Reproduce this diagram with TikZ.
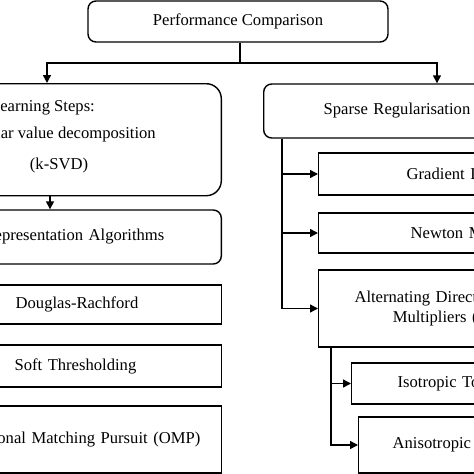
\documentclass[tikz,border=0pt]{standalone}
\usepackage{fontspec}
\setmainfont{Liberation Serif}
\usetikzlibrary{arrows.meta}
\begin{document}
\begin{tikzpicture}[x=1pt,y=-1pt,
  every node/.style={font=\fontsize{16.6}{20}\selectfont},
  box/.style={draw, line width=1.4pt, inner ysep=0pt, text width=300pt},
  lbox/.style={box, anchor=east, align=right},
  rbox/.style={box, anchor=west, align=left},
  txt/.style={inner sep=0pt},
  conn/.style={line width=1.4pt},
  arr/.style={conn, -{Triangle[length=8pt,width=8pt]}}]
\useasboundingbox (0,0) rectangle (474,474);
\clip (0,0) rectangle (474,474);
% top
\node[draw, line width=1.4pt, rounded corners=8pt, minimum width=300pt, minimum height=41pt, inner sep=0pt] (top) at (238,21.5) {Performance Comparison};
% left column
\node[draw, line width=1.4pt, rounded corners=15pt, anchor=north east, minimum width=320pt, minimum height=112pt, inner sep=0pt] (learn) at (222,83) {};
\node[txt, anchor=east] (l1) at (95,108) {Dictionary Learning Steps:};
\node[txt] (l2) at (58,135) {singular value decomposition};
\node[txt] (l3) at (59,166) {(k-SVD)};
\node[lbox, rounded corners=8pt, minimum height=54pt, inner xsep=57pt] (sra) at (222,237) {Sparse Representation Algorithms};
\node[lbox, minimum height=39pt, inner xsep=83pt] (dr) at (222,304.5) {Douglas-Rachford};
\node[lbox, minimum height=42pt, inner xsep=85pt] (st) at (222,366) {Soft Thresholding};
\node[lbox, minimum height=67pt, inner xsep=21pt] (omp) at (222,439.5) {Orthogonal Matching Pursuit (OMP)};
% right column
\node[rbox, rounded corners=8pt, minimum height=54pt, inner xsep=60pt] (sr) at (263,111) {Sparse Regularisation};
\node[rbox, minimum height=42pt, inner xsep=88pt] (gd) at (318,174) {Gradient Descent};
\node[rbox, minimum height=40pt, inner xsep=92pt] (nm) at (318,233) {Newton Method};
\node[box, anchor=west, align=center, text width=260pt, minimum height=77pt, inner xsep=16pt] (admm) at (318,308.5) {Alternating Direction Method of\\Multipliers (ADMM)};
\node[rbox, minimum height=41pt, inner xsep=46pt] (iso) at (351,383.5) {Isotropic Total Variation};
\node[rbox, minimum height=56pt, inner xsep=34pt] (aniso) at (358,445) {Anisotropic Total Variation};
% helper coordinates
\coordinate (split) at (240,63);
\coordinate (xl) at (47,0);
\coordinate (xr) at (437,0);
\coordinate (xa) at (50,0);
\coordinate (v1) at (282,0);
\coordinate (v2) at (331,0);
% connectors
\draw[conn] (top.south -| split) -- (split);
\draw[arr] (split) -| (learn.north -| xl);
\draw[arr] (split) -| (sr.north -| xr);
\draw[arr] (learn.south -| xa) -- (sra.north -| xa);
\draw[arr] (sr.south -| v1) |- (gd.west);
\draw[arr] (sr.south -| v1) |- (nm.west);
\draw[arr] (sr.south -| v1) |- (admm.west);
\draw[arr] (admm.south -| v2) |- (iso.west);
\draw[arr] (admm.south -| v2) |- (aniso.west);
\end{tikzpicture}
\end{document}
